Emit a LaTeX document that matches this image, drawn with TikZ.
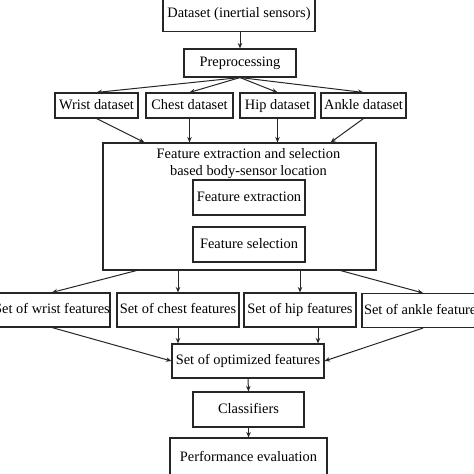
\documentclass[tikz,border=0pt]{standalone}
\usepackage{fontspec}
\setmainfont{Liberation Serif}
\usetikzlibrary{arrows.meta}
\begin{document}
\begin{tikzpicture}[x=1pt,y=-1pt,
  box/.style={draw=black!85, line width=1.1pt, fill=white, inner sep=0pt, text height=10pt, text depth=3pt, font=\fontsize{14.4}{17}\selectfont},
  conn/.style={draw=black!85, line width=1pt, -{Stealth[length=5.5pt,width=4.5pt]}}]
\useasboundingbox (0,0) rectangle (474,474);
\clip (0,0) rectangle (474,474);
\fill[white] (0,0) rectangle (474,474);
% nodes
\node[box, minimum width=152pt, minimum height=36pt] (data) at (239,13.5) {Dataset (inertial sensors)};
\node[box, minimum width=112pt, minimum height=28pt] (prep) at (240,63) {Preprocessing};
\node[box, minimum width=83pt, minimum height=25pt] (wrist) at (96.5,105.5) {Wrist dataset};
\node[box, minimum width=87pt, minimum height=25pt] (chest) at (189.5,105.5) {Chest dataset};
\node[box, minimum width=75pt, minimum height=25pt] (hip) at (277.5,105.5) {Hip dataset};
\node[box, minimum width=85pt, minimum height=25pt] (ankle) at (363.5,105.5) {Ankle dataset};
\node[box, minimum width=273pt, minimum height=127pt] (big) at (239.5,206.5) {};
\node[font=\fontsize{14.4}{17}\selectfont, align=center, inner sep=0pt] (title) at (248.5,164) {Feature extraction and selection\\based body-sensor location};
\node[box, minimum width=112pt, minimum height=35pt] (fext) at (249,197.5) {Feature extraction};
\node[box, minimum width=112pt, minimum height=35pt] (fsel) at (249,244.5) {Feature selection};
\node[box, minimum width=116pt, minimum height=34pt] (swrist) at (52,310) {Set of wrist features};
\node[box, minimum width=122pt, minimum height=34pt] (schest) at (178,310) {Set of chest features};
\node[box, minimum width=112pt, minimum height=34pt] (ship) at (300,310) {Set of hip features};
\node[box, minimum width=122pt, minimum height=34pt] (sankle) at (423,310.5) {Set of ankle features};
\node[box, minimum width=152pt, minimum height=34pt] (opt) at (248,361) {Set of optimized features};
\node[box, minimum width=111pt, minimum height=35pt] (cls) at (248.5,409.5) {Classifiers};
\node[box, minimum width=157pt, minimum height=40pt] (perf) at (248.5,458) {Performance evaluation};
% connectors
\draw[conn] (data.south -| prep.north) -- (prep.north);
\draw[conn] (prep.south) -- (wrist.north);
\draw[conn] (prep.south) -- (chest.north);
\draw[conn] (prep.south) -- (hip.north);
\draw[conn] (prep.south) -- (ankle.north);
\draw[conn] (wrist.south) -- ([xshift=42pt]big.north west);
\draw[conn] (chest.south) -- (chest.south |- big.north);
\draw[conn] (hip.south) -- (hip.south |- big.north);
\draw[conn] (ankle.south) -- ([xshift=-46pt]big.north east);
\draw[conn] ([xshift=34pt]big.south west) -- (swrist.north);
\draw[conn] (big.south -| schest.north) -- (schest.north);
\draw[conn] (big.south -| ship.north) -- (ship.north);
\draw[conn] ([xshift=-36pt]big.south east) -- (sankle.north);
\draw[conn] (swrist.south) -- (opt.west);
\draw[conn] (schest.south) -- (schest.south |- opt.north);
\draw[conn] ([xshift=18pt]ship.south) -- ([xshift=18pt]ship.south |- opt.north);
\draw[conn] (sankle.south) -- (opt.east);
\draw[conn] (opt.south) -- (cls.north);
\draw[conn] (cls.south) -- (perf.north);
\end{tikzpicture}
\end{document}
